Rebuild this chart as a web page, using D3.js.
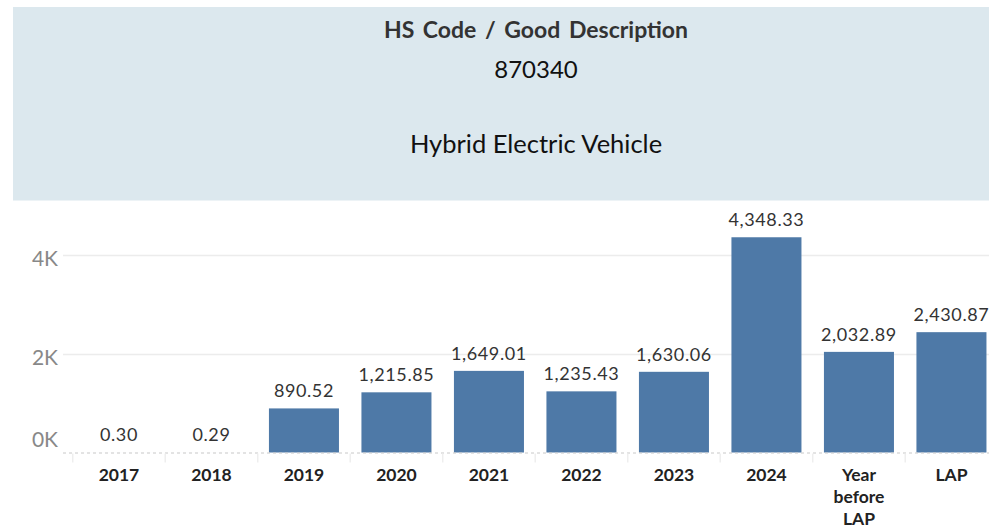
<!DOCTYPE html>
<html>
<head>
<meta charset="utf-8">
<script src="https://cdn.jsdelivr.net/npm/d3@7"></script>
<style>
  body { margin: 0; background: #fff; }
  svg { display: block; }
</style>
</head>
<body>
<script>
// data
const categories = ["2017", "2018", "2019", "2020", "2021", "2022", "2023", "2024", "Year before LAP", "LAP"];
const values = [0.30, 0.29, 890.52, 1215.85, 1649.01, 1235.43, 1630.06, 4348.33, 2032.89, 2430.87];
const yTicks = [0, 2000, 4000];
const headerLines = ["HS Code / Good Description", "870340", "Hybrid Electric Vehicle"];

const width = 989, height = 531;
const svg = d3.select("body").append("svg")
  .attr("width", width)
  .attr("height", height);

// header panel
svg.append("rect")
  .attr("x", 13).attr("y", 7)
  .attr("width", width - 13).attr("height", 193.5)
  .attr("fill", "#dce8ee");

const headerX = 536;
svg.append("text")
  .attr("x", headerX).attr("y", 38)
  .attr("text-anchor", "middle")
  .attr("font-family", "Lato, sans-serif")
  .attr("font-weight", "bold")
  .attr("font-size", 23)
  .attr("fill", "#333")
  .attr("word-spacing", 3)
  .text(headerLines[0]);

svg.append("text")
  .attr("x", headerX).attr("y", 78)
  .attr("text-anchor", "middle")
  .attr("font-family", "Lato, sans-serif")
  .attr("font-size", 24)
  .attr("fill", "#111")
  .text(headerLines[1]);

svg.append("text")
  .attr("x", headerX).attr("y", 153)
  .attr("text-anchor", "middle")
  .attr("font-family", "Lato, sans-serif")
  .attr("font-size", 25.5)
  .attr("fill", "#111")
  .text(headerLines[2]);

// scales
const x = d3.scaleBand()
  .domain(categories)
  .range([72.7, 72.7 + 92.5 * categories.length])
  .paddingInner(0.243)
  .paddingOuter(0.1215);

const y = d3.scaleLinear()
  .domain([0, 4000])
  .range([452.5, 254.5]);

// gridlines
svg.append("g")
  .selectAll("line")
  .data(yTicks.filter(d => d > 0))
  .join("line")
  .attr("x1", 63).attr("x2", width)
  .attr("y1", d => Math.round(y(d)) + 0.5)
  .attr("y2", d => Math.round(y(d)) + 0.5)
  .attr("stroke", "#ececec")
  .attr("stroke-width", 1.5);

// y axis labels (the 0K label sits above the baseline, as in the original)
const yAxis = svg.append("g")
  .attr("transform", "translate(58,0)")
  .call(d3.axisLeft(y).tickValues(yTicks).tickSize(0).tickPadding(0)
    .tickFormat(d => d3.format(".0f")(d / 1000) + "K"));
yAxis.select(".domain").remove();
yAxis.selectAll("text")
  .attr("font-family", "Lato, sans-serif")
  .attr("font-size", 21)
  .attr("fill", "#888")
  .attr("dy", d => d === 0 ? "-0.3em" : "0.5em");

// bars
svg.append("g")
  .selectAll("rect")
  .data(values)
  .join("rect")
  .attr("x", (d, i) => x(categories[i]))
  .attr("width", x.bandwidth())
  .attr("y", d => y(d))
  .attr("height", d => y(0) - y(d))
  .attr("fill", "#4e79a7");

// zero line
svg.append("line")
  .attr("x1", 63).attr("x2", width)
  .attr("y1", y(0) + 0.5).attr("y2", y(0) + 0.5)
  .attr("stroke", "#c8c8c8")
  .attr("stroke-dasharray", "3,3");

// category separators
const step = x.step();
svg.append("g")
  .selectAll("line")
  .data(categories)
  .join("line")
  .attr("x1", (d) => x(d) - x.paddingOuter() * step)
  .attr("x2", (d) => x(d) - x.paddingOuter() * step)
  .attr("y1", y(0) + 1).attr("y2", y(0) + 10)
  .attr("stroke", "#eeeeee")
  .attr("stroke-width", 1.5);

// value labels
const fmt = d3.format(",.2f");
svg.append("g")
  .selectAll("text")
  .data(values)
  .join("text")
  .attr("x", (d, i) => x(categories[i]) + x.bandwidth() / 2)
  .attr("y", d => y(d) - 11)
  .attr("text-anchor", "middle")
  .attr("font-family", "Lato, sans-serif")
  .attr("font-size", 18)
  .attr("letter-spacing", 0.6)
  .attr("fill", "#333")
  .text(d => fmt(d));

// category labels, wrapped
const xLabels = svg.append("g")
  .selectAll("text")
  .data(categories)
  .join("text")
  .attr("x", d => x(d) + x.bandwidth() / 2)
  .attr("y", 481)
  .attr("text-anchor", "middle")
  .attr("font-family", "Lato, sans-serif")
  .attr("font-weight", "bold")
  .attr("font-size", 17.5)
  .attr("fill", "#222");
xLabels.each(function(d) {
  const words = d === "Year before LAP" ? ["Year", "before", "LAP"] : [d];
  const t = d3.select(this);
  words.forEach((w, j) => {
    t.append("tspan")
      .attr("x", x(d) + x.bandwidth() / 2)
      .attr("dy", j === 0 ? 0 : 22)
      .text(w);
  });
});
</script>
</body>
</html>
